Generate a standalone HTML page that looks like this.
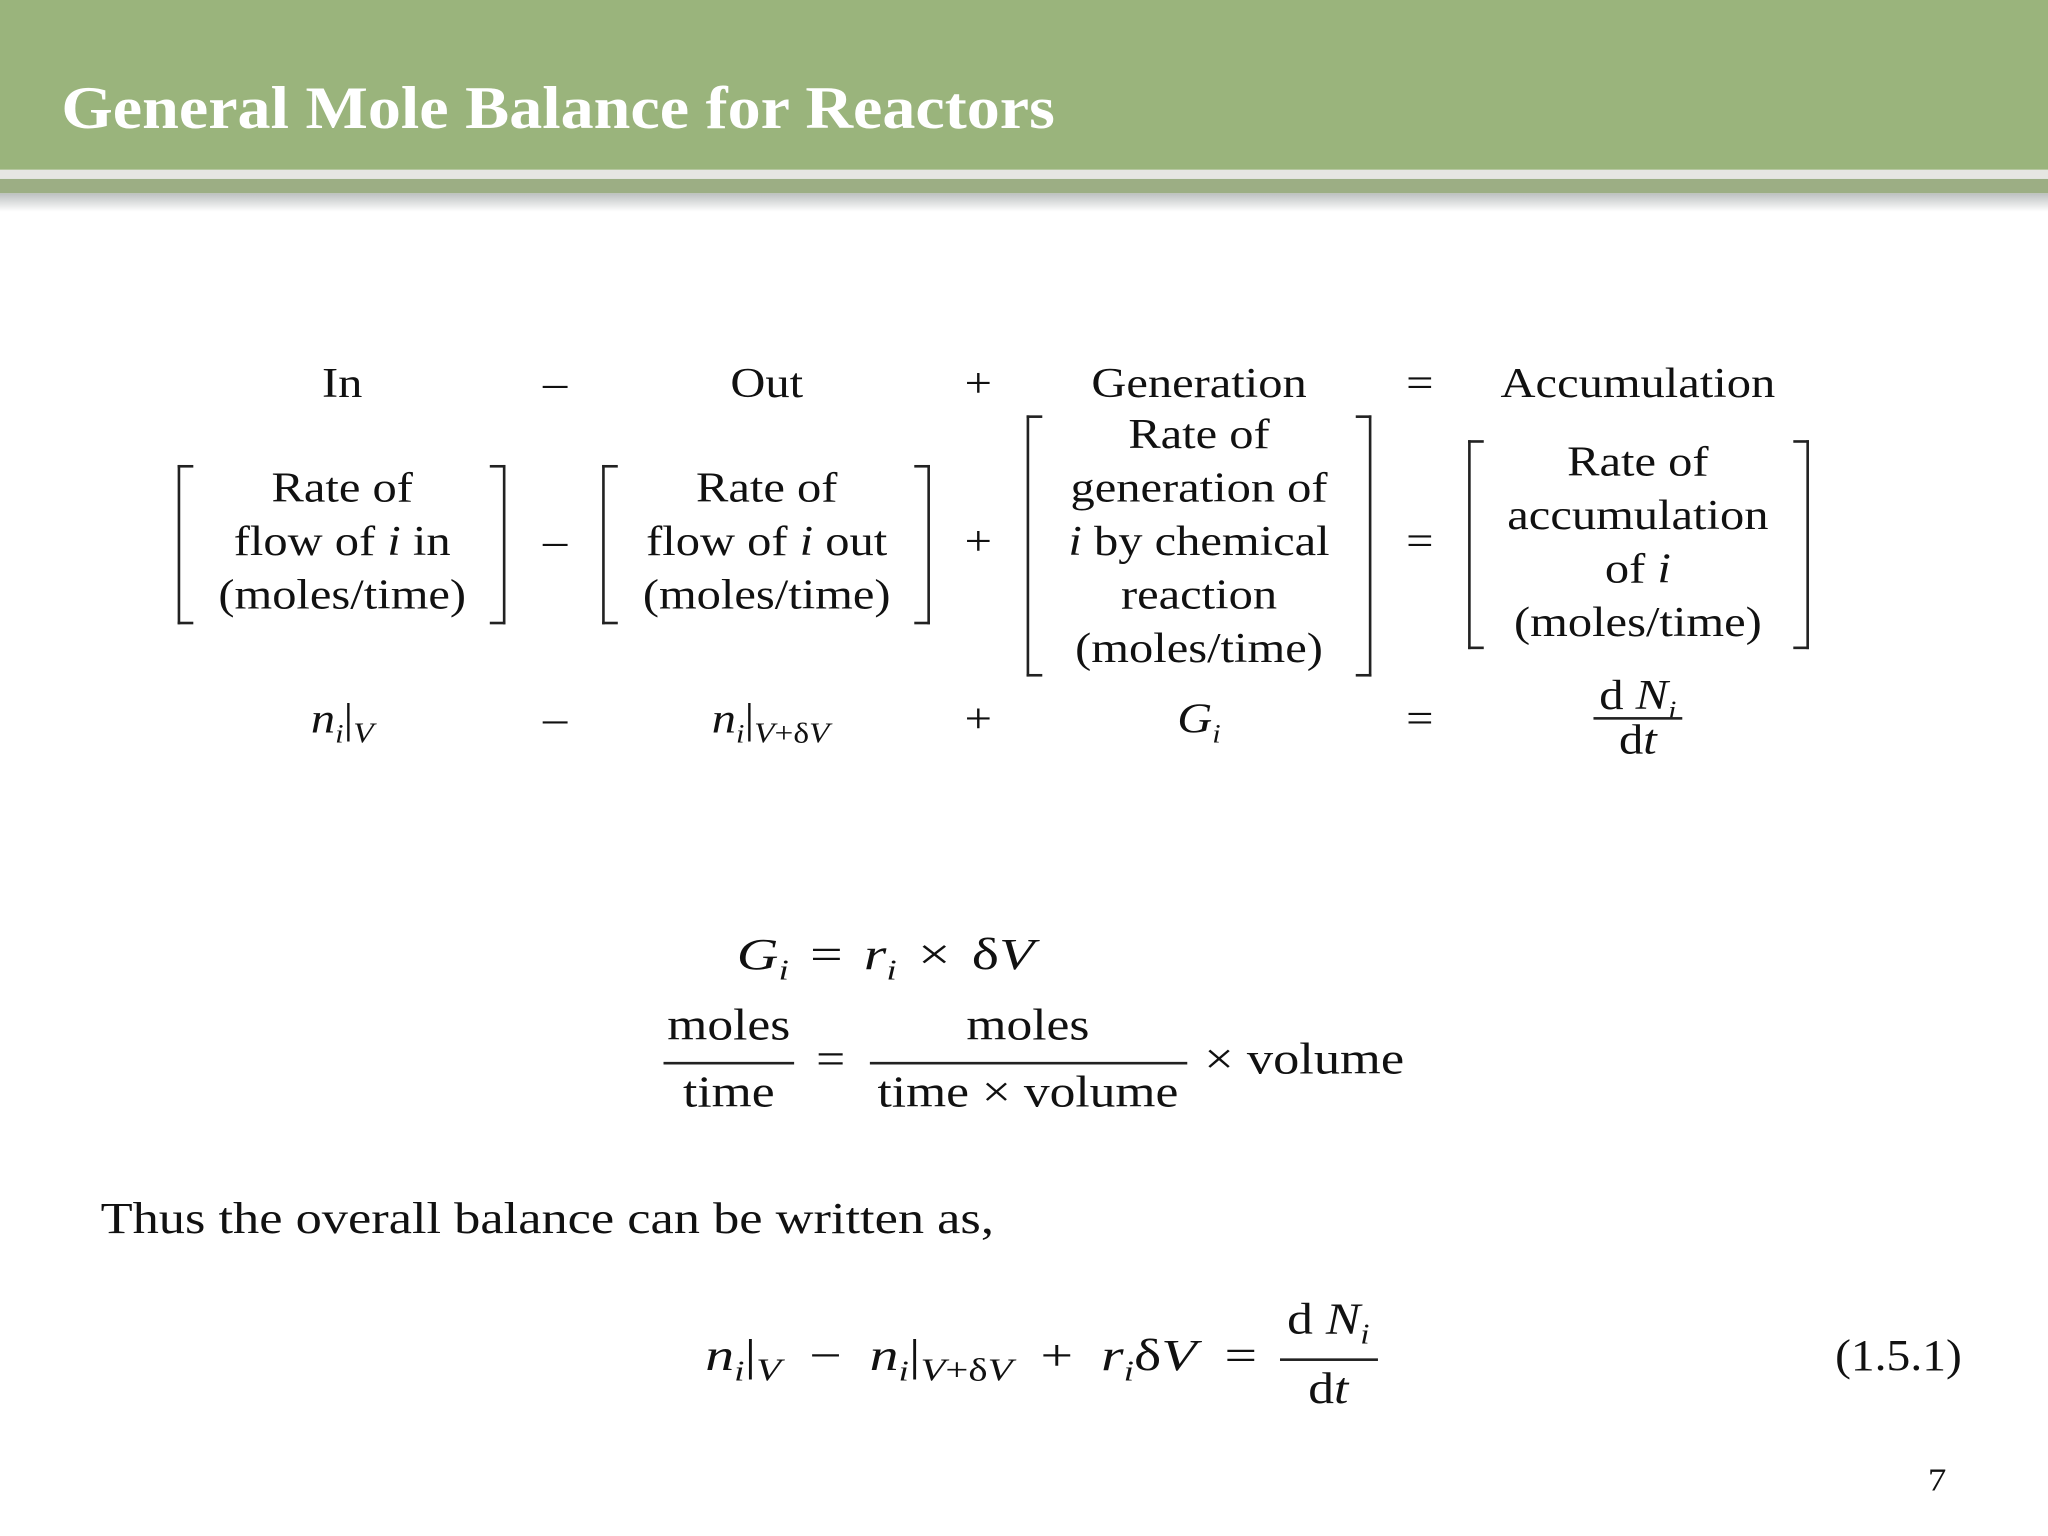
<!DOCTYPE html>
<html><head><meta charset="utf-8"><style>
body{margin:0;width:2048px;height:1536px;overflow:hidden;background:#fff}
#s{position:absolute;left:0;top:0;width:1568px;height:1176px;transform:scale(1.30612);transform-origin:0 0;font-family:"Liberation Serif",serif;color:#111}
.c{position:absolute;transform:translateX(-50%) scaleX(1.16);white-space:nowrap;font-size:32px;line-height:41px;text-align:center}
.l{position:absolute;white-space:nowrap;transform-origin:0 0;transform:scaleX(1.18)}
.bl,.br{position:absolute;border:2.5px solid #222;width:10px}
.bl{border-right:none}.br{border-left:none}
i{font-style:italic}
.fr{position:absolute;border-top:2px solid #222}
</style></head><body><div id="s">
<div style="position:absolute;left:0;top:0;width:1568px;height:130px;background:#9ab47c"></div>
<div style="position:absolute;left:0;top:130px;width:1568px;height:7px;background:#e6e6e2"></div>
<div style="position:absolute;left:0;top:137px;width:1568px;height:11px;background:#9cae84"></div>
<div style="position:absolute;left:0;top:148px;width:1568px;height:14px;background:linear-gradient(#bcc0c0,#fff)"></div>
<div class="l" style="left:47px;top:56px;font-size:46px;color:#fff;font-weight:bold;line-height:54px;transform:scaleX(1.1)">General Mole Balance for Reactors</div>

<div class="c" style="left:262px;top:273px">In</div>
<div class="c" style="left:425px;top:273px">–</div>
<div class="c" style="left:587px;top:273px">Out</div>
<div class="c" style="left:749px;top:273px">+</div>
<div class="c" style="left:918px;top:273px">Generation</div>
<div class="c" style="left:1087px;top:273px">=</div>
<div class="c" style="left:1254px;top:273px">Accumulation</div>

<div class="bl" style="left:136px;top:356px;height:118px"></div>
<div class="br" style="left:375px;top:356px;height:118px"></div>
<div class="c" style="left:262px;top:353px">Rate of<br>flow of <i>i</i> in<br>(moles/time)</div>
<div class="c" style="left:425px;top:394px">–</div>
<div class="bl" style="left:461px;top:356px;height:118px"></div>
<div class="br" style="left:700px;top:356px;height:118px"></div>
<div class="c" style="left:587px;top:353px">Rate of<br>flow of <i>i</i> out<br>(moles/time)</div>
<div class="c" style="left:749px;top:394px">+</div>
<div class="bl" style="left:786px;top:318px;height:196px"></div>
<div class="br" style="left:1038px;top:318px;height:196px"></div>
<div class="c" style="left:918px;top:312px">Rate of<br>generation of<br><i>i</i> by chemical<br>reaction<br>(moles/time)</div>
<div class="c" style="left:1087px;top:394px">=</div>
<div class="bl" style="left:1124px;top:337px;height:156px"></div>
<div class="br" style="left:1373px;top:337px;height:156px"></div>
<div class="c" style="left:1254px;top:333px">Rate of<br>accumulation<br>of <i>i</i><br>(moles/time)</div>

<div class="c" style="left:262px;top:530px"><i>n<sub style="font-size:20px">i</sub></i>|<sub style="font-size:22px"><i>V</i></sub></div>
<div class="c" style="left:425px;top:530px">–</div>
<div class="c" style="left:590px;top:530px"><i>n<sub style="font-size:20px">i</sub></i>|<sub style="font-size:22px"><i>V</i>+δ<i>V</i></sub></div>
<div class="c" style="left:749px;top:530px">+</div>
<div class="c" style="left:918px;top:530px"><i>G<sub style="font-size:20px">i</sub></i></div>
<div class="c" style="left:1087px;top:530px">=</div>
<div class="c" style="left:1254px;top:512px">d <i>N<sub style="font-size:20px">i</sub></i></div>
<div class="fr" style="left:1220px;top:549px;width:68px"></div>
<div class="c" style="left:1254px;top:546px">d<i>t</i></div>

<div class="c" style="left:678px;top:711px;font-size:34px;word-spacing:4px;transform:translateX(-50%) scaleX(1.3)"><i>G<sub style="font-size:22px">i</sub></i> = <i>r<sub style="font-size:22px">i</sub></i> × δ<i>V</i></div>
<div class="c" style="left:558px;top:765px;font-size:34px">moles</div>
<div class="fr" style="left:508px;top:813px;width:100px"></div>
<div class="c" style="left:558px;top:816px;font-size:34px">time</div>
<div class="c" style="left:636px;top:791px;font-size:34px">=</div>
<div class="c" style="left:787px;top:765px;font-size:34px">moles</div>
<div class="fr" style="left:666px;top:813px;width:243px"></div>
<div class="c" style="left:787px;top:816px;font-size:34px">time × volume</div>
<div class="l" style="left:922px;top:791px;font-size:34px;line-height:41px">× volume</div>

<div class="l" style="left:77px;top:913px;font-size:34px;line-height:41px">Thus the overall balance can be written as,</div>

<div class="l" style="left:540px;top:1018px;font-size:34px;line-height:41px;word-spacing:8px;transform:scaleX(1.3)"><i>n<sub style="font-size:22px">i</sub></i>|<sub style="font-size:24px"><i>V</i></sub> − <i>n<sub style="font-size:22px">i</sub></i>|<sub style="font-size:24px"><i>V</i>+δ<i>V</i></sub> + <i>r<sub style="font-size:22px">i</sub></i>δ<i>V</i> =</div>
<div class="c" style="left:1017px;top:990px;font-size:34px">d <i>N<sub style="font-size:22px">i</sub></i></div>
<div class="fr" style="left:980px;top:1040px;width:75px"></div>
<div class="c" style="left:1017px;top:1043px;font-size:34px">d<i>t</i></div>
<div class="l" style="left:1405px;top:1018px;font-size:34px;line-height:41px;transform:scaleX(1.07)">(1.5.1)</div>
<div class="l" style="left:1476px;top:1120px;font-size:24px;line-height:28px">7</div>
</div></body></html>
